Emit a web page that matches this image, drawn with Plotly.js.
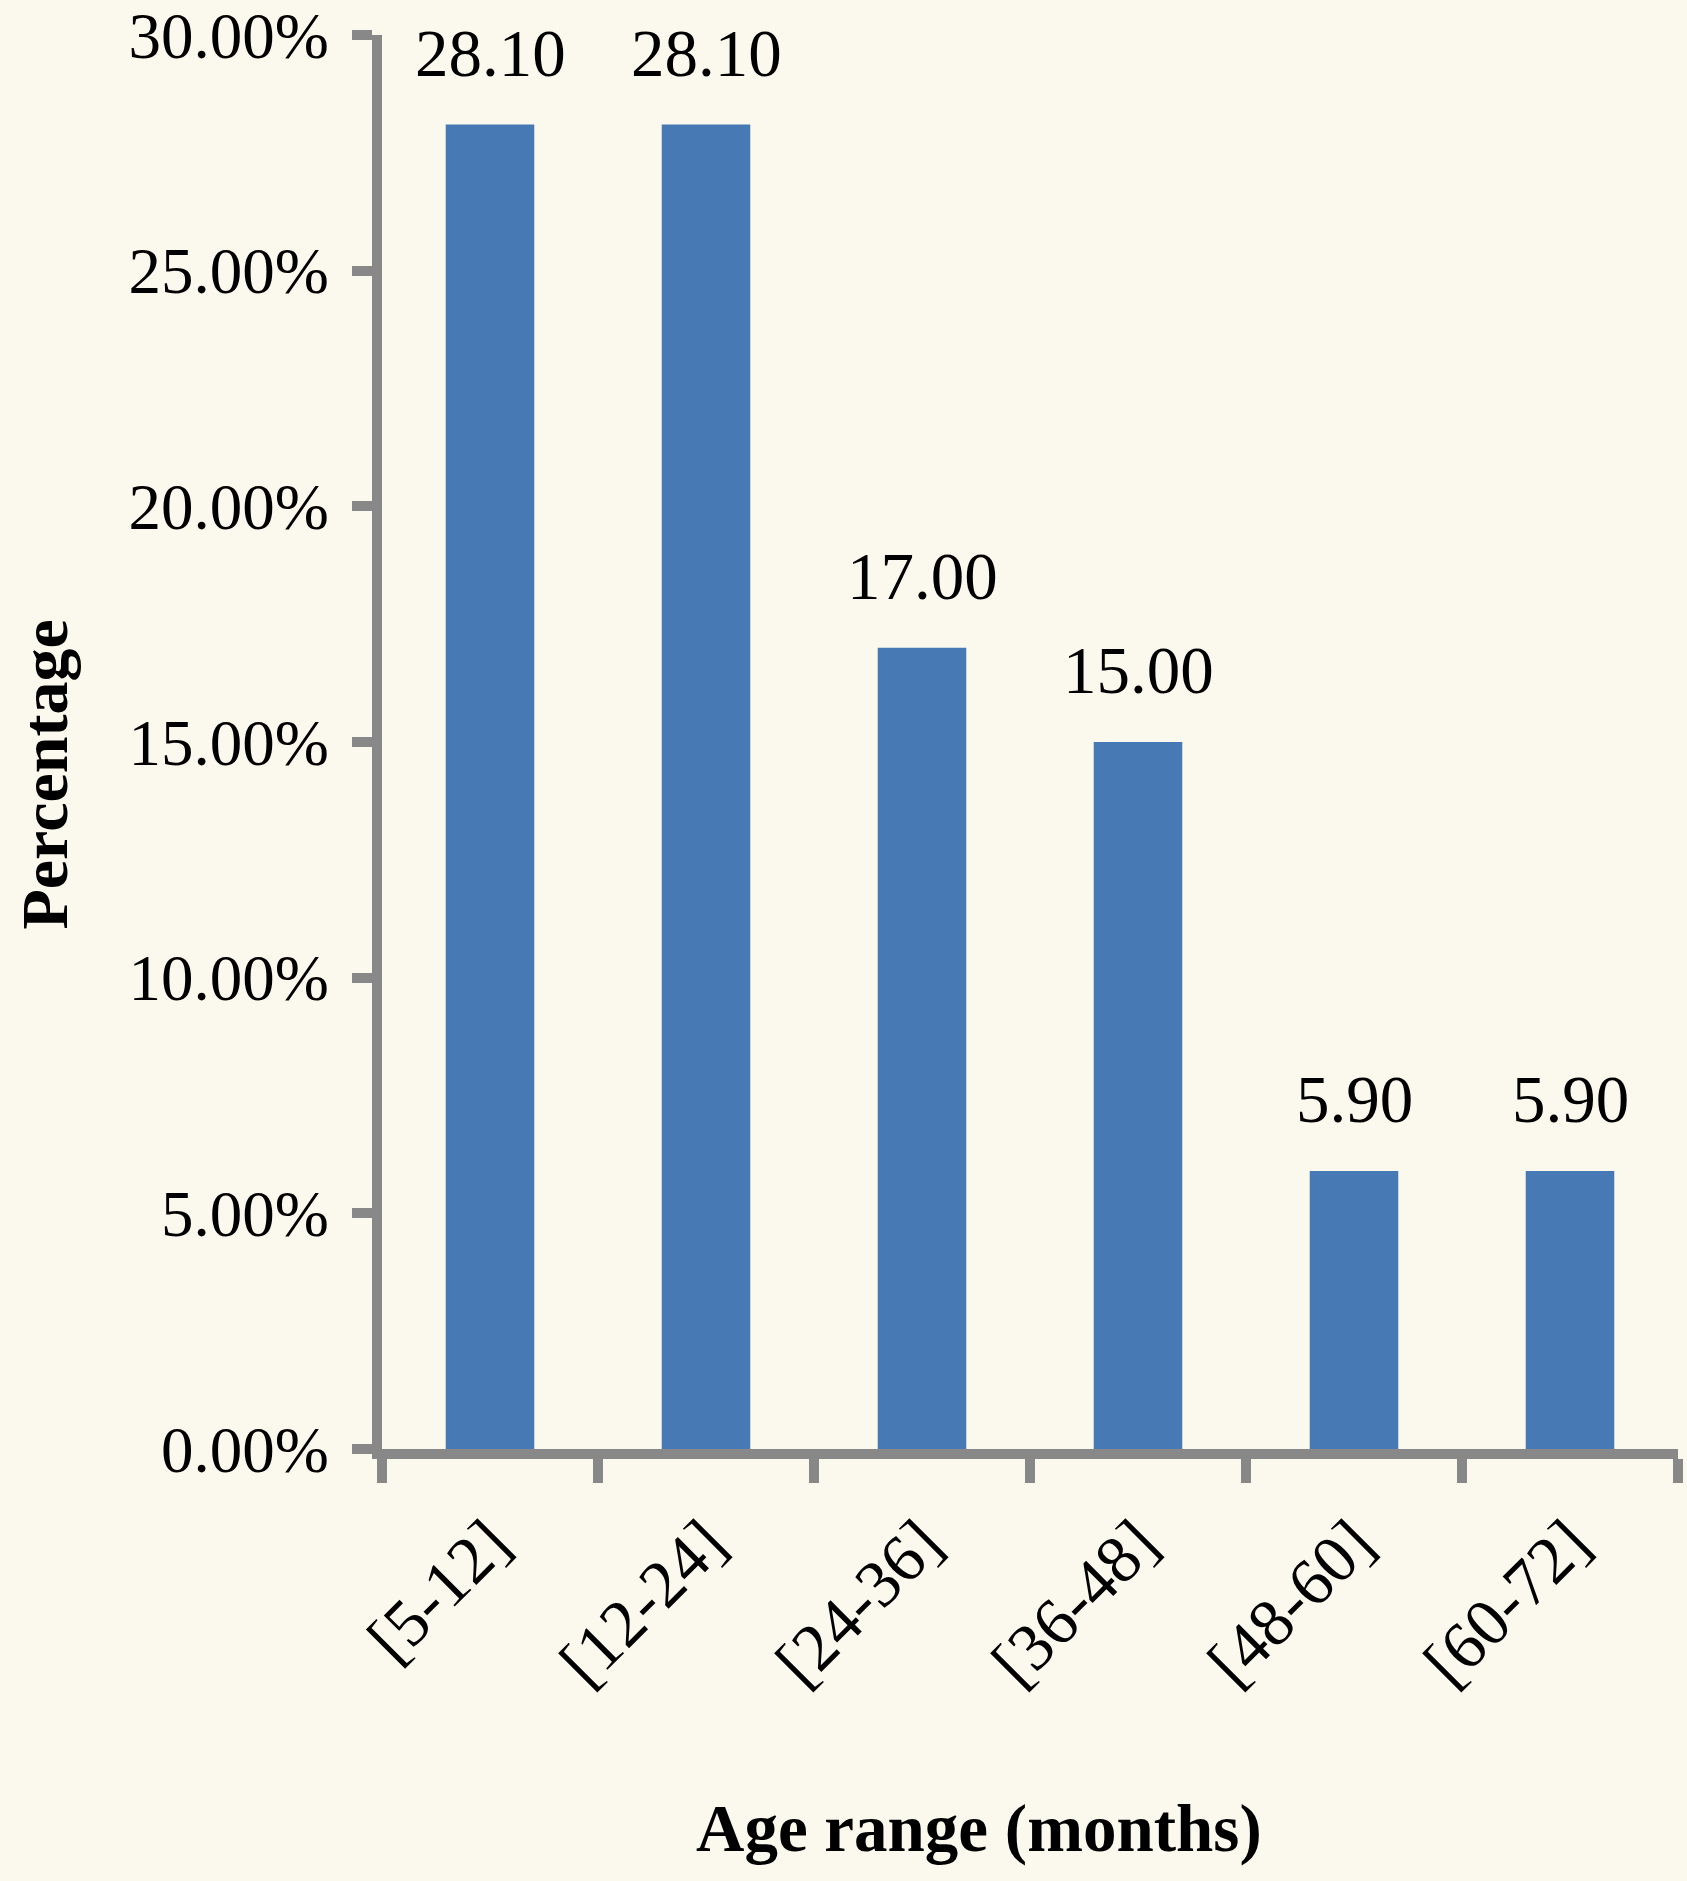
<!DOCTYPE html>
<html>
<head>
<meta charset="utf-8">
<script src="https://cdn.plot.ly/plotly-3.0.1.min.js"></script>
<style>
  html, body { margin: 0; padding: 0; background: #fbf9ee; }
  #chart { width: 1687px; height: 1881px; }
</style>
</head>
<body>
<div id="chart"></div>
<script>
// Age distribution (percent of children per age range)
const ageRanges = ['[5-12]', '[12-24]', '[24-36]', '[36-48]', '[48-60]', '[60-72]'];
const percentages = [28.10, 28.10, 17.00, 15.00, 5.90, 5.90];
const yTickValues = [0, 5, 10, 15, 20, 25, 30];

const colors = {
    bar: '#4779b5',
    axis: '#888888',
    bg: '#fbf9ee',
    text: '#000000'
};
const serif = 'Liberation Serif, Times New Roman, serif';

// Value labels above each bar
const valueLabels = ageRanges.map(function (cat, i) {
    return {
        x: cat,
        y: percentages[i],
        xref: 'x',
        yref: 'y',
        text: percentages[i].toFixed(2),
        showarrow: false,
        yanchor: 'bottom',
        yshift: 33,
        font: { family: serif, size: 67, color: colors.text }
    };
});

// Axis titles (placed as annotations to match the original offsets)
const axisTitles = [
    {
        text: '<b>Age range (months)</b>',
        xref: 'paper', yref: 'paper',
        x: 0.461, y: 0,
        xanchor: 'center', yanchor: 'top',
        yshift: -340,
        showarrow: false,
        font: { family: serif, size: 67, color: colors.text }
    },
    {
        text: '<b>Percentage</b>',
        xref: 'paper', yref: 'paper',
        x: 0, y: 0.477,
        xanchor: 'center', yanchor: 'middle',
        xshift: -337,
        textangle: -90,
        showarrow: false,
        font: { family: serif, size: 66, color: colors.text }
    }
];

Plotly.newPlot('chart', [{
    type: 'bar',
    x: ageRanges,
    y: percentages,
    marker: { color: colors.bar },
    hoverinfo: 'x+y'
}], {
    width: 1687,
    height: 1881,
    margin: { l: 382, r: 9, t: 35, b: 432 },
    paper_bgcolor: colors.bg,
    plot_bgcolor: colors.bg,
    bargap: 0.59,
    showlegend: false,
    font: { family: serif, color: colors.text },
    xaxis: {
        type: 'category',
        tickson: 'boundaries',
        ticks: 'outside',
        ticklen: 24,
        tickwidth: 10,
        tickcolor: colors.axis,
        showline: true,
        linewidth: 10,
        linecolor: colors.axis,
        showgrid: false,
        zeroline: false,
        tickangle: -45,
        ticklabelstandoff: 18,
        tickfont: { family: serif, size: 67, color: colors.text }
    },
    yaxis: {
        range: [0, 30],
        tickvals: yTickValues,
        ticktext: yTickValues.map(function (v) { return v.toFixed(2) + '%'; }),
        ticks: 'outside',
        ticklen: 20,
        tickwidth: 10,
        tickcolor: colors.axis,
        showline: true,
        linewidth: 10,
        linecolor: colors.axis,
        showgrid: false,
        zeroline: false,
        ticklabelstandoff: 10,
        ticklabeloverflow: 'allow',
        tickfont: { family: serif, size: 65, color: colors.text }
    },
    annotations: valueLabels.concat(axisTitles)
}, { displayModeBar: false, staticPlot: true });
</script>
</body>
</html>
